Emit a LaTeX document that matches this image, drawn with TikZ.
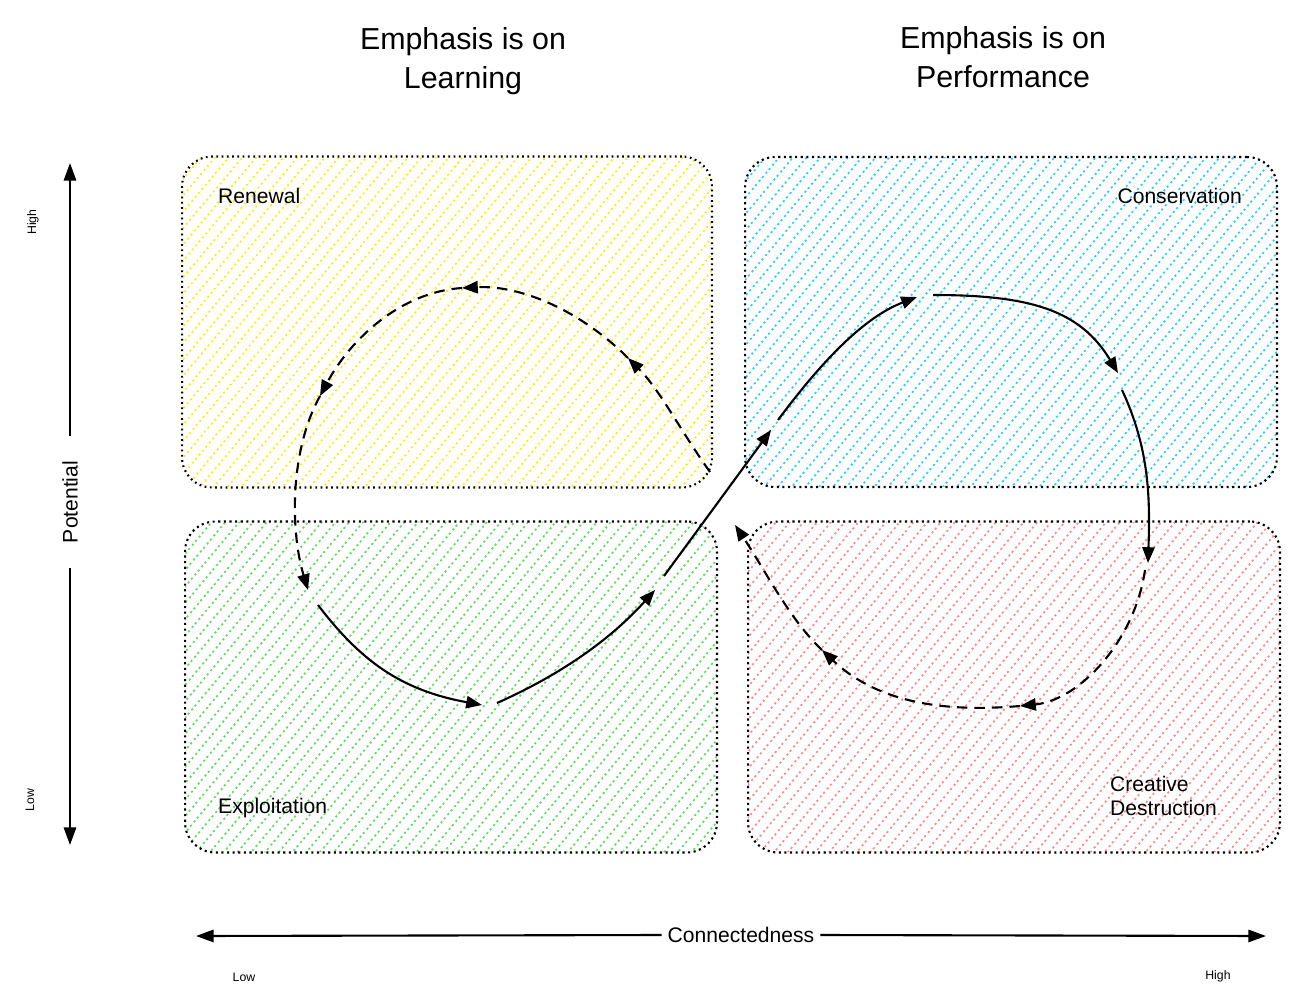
\documentclass[tikz,border=0pt]{standalone}
\usepackage{fontspec}
\setmainfont{Liberation Sans}
\usetikzlibrary{patterns.meta,arrows.meta}
\begin{document}
\begin{tikzpicture}[x=0.02cm,y=-0.02cm,
  quad/.style={draw,dotted,line width=1.2pt,rounded corners=0.6cm},
  hatch/.style={pattern={Lines[angle=50,distance=6pt,line width=1pt]},pattern color=#1},
  solidarr/.style={line width=1.2pt,-{Triangle[length=9pt,width=7pt]}},
  dasharr/.style={line width=1.2pt,dashed,dash pattern=on 6pt off 4pt,-{Triangle[length=9pt,width=7pt]}},
  axis/.style={line width=1.2pt,-{Triangle[length=10pt,width=7pt]}},
  lbl/.style={font=\large},
  small/.style={font=\scriptsize}]
\useasboundingbox (0,0) rectangle (1292,1004);
\node[quad,hatch={yellow!85!orange},minimum width=10.6cm,minimum height=6.62cm] (ren) at (447,322) {};
\node[quad,hatch={cyan!75!blue!80},minimum width=10.64cm,minimum height=6.6cm] (con) at (1011,322) {};
\node[quad,hatch={green!75!black!60},minimum width=10.64cm,minimum height=6.62cm] (exp) at (451,687) {};
\node[quad,hatch={red!45},minimum width=10.64cm,minimum height=6.62cm] (cd) at (1014,687) {};
\node[lbl,anchor=west] (tren) at (212,196) {Renewal};
\node[lbl,anchor=east] (tcon) at (1248,196) {Conservation};
\node[lbl,anchor=west] (texp) at (212,808) {Exploitation};
\node[lbl,anchor=west,align=left] (tcd) at (1104,796) {Creative\\Destruction};
\node[font=\LARGE,align=center] (t1) at (463,61) {Emphasis is on\\Learning};
\node[font=\LARGE,align=center] (t2) at (1003,57) {Emphasis is on\\Performance};
% axes
\coordinate (vt) at (70,163); \coordinate (vb) at (70,845);
\node[lbl,rotate=90,inner xsep=14pt] (pot) at (70,502) {Potential};
\draw[axis] (pot.east) -- (vt);
\draw[axis] (pot.west) -- (vb);
\node[small,rotate=90] (vh) at (33,222) {High};
\node[small,rotate=90] (vl) at (30,800) {Low};
\coordinate (hl) at (196,936); \coordinate (hr) at (1266,936);
\node[lbl] (conn) at (741,935) {Connectedness};
\draw[axis] (conn.west) -- (hl);
\draw[axis] (conn.east) -- (hr);
\node[small] (hlow) at (244,977) {Low};
\node[small] (hhigh) at (1218,976) {High};
% cycle
\coordinate (a1) at (318,605); \coordinate (a2) at (482,705);
\coordinate (b1) at (497,703); \coordinate (b2) at (655,590);
\coordinate (c1) at (664,576); \coordinate (c2) at (771,430);
\coordinate (d1) at (778,420); \coordinate (d2) at (917,297);
\coordinate (e1) at (933,295); \coordinate (e2) at (1118,373);
\coordinate (f1) at (1122,390); \coordinate (f2) at (1148,563);
\draw[solidarr] (a1) .. controls (360,660) and (400,690) .. (a2);
\draw[solidarr] (b1) .. controls (560,675) and (610,640) .. (b2);
\draw[solidarr] (c1) -- (c2);
\draw[solidarr] (d1) .. controls (830,350) and (870,315) .. (d2);
\draw[solidarr] (e1) .. controls (1030,295) and (1080,310) .. (e2);
\draw[solidarr] (f1) .. controls (1150,450) and (1150,500) .. (f2);
\coordinate (g1) at (1145,570); \coordinate (g2) at (1020,706);
\coordinate (g3) at (822,650); \coordinate (g4) at (735,525);
\draw[dasharr] (g1) .. controls (1135,640) and (1080,700) .. (g2);
\draw[dasharr] (g2) .. controls (950,712) and (880,705) .. (g3);
\draw[dasharr] (g3) .. controls (790,620) and (765,570) .. (g4);
\coordinate (h1) at (710,472); \coordinate (h2) at (628,358);
\coordinate (h3) at (462,288); \coordinate (h4) at (320,396);
\coordinate (h5) at (308,590);
\draw[dasharr] (h1) .. controls (680,430) and (660,390) .. (h2);
\draw[dasharr] (h2) .. controls (580,310) and (520,285) .. (h3);
\draw[dasharr] (h3) .. controls (400,292) and (350,340) .. (h4);
\draw[dasharr] (h4) .. controls (290,450) and (290,530) .. (h5);
\end{tikzpicture}
\end{document}
